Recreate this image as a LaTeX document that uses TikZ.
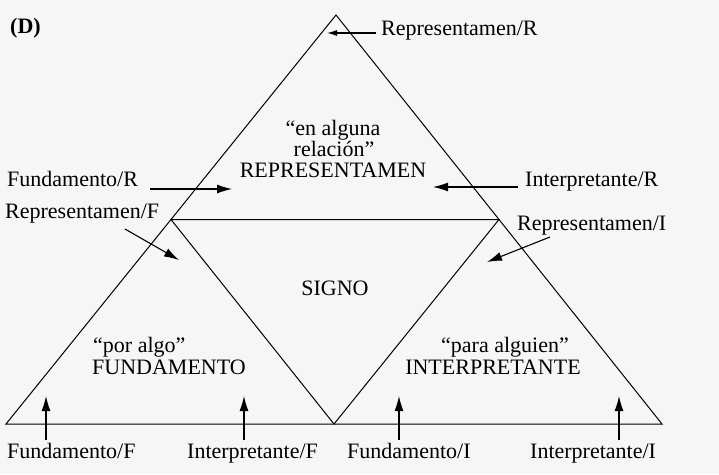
\documentclass[tikz,border=0pt]{standalone}
\usepackage{fontspec}
\setmainfont{Liberation Serif}
\usetikzlibrary{calc,arrows.meta}

\tikzset{
    lbl/.style={font=\fontsize{22}{24}\selectfont, inner sep=0pt, anchor=base west},
    ctr/.style={font=\fontsize{22}{24}\selectfont, inner sep=0pt, anchor=base},
    side/.style={line width=1pt},
    ptr/.style={line width=1.1pt, -{Latex[length=15pt,width=9pt]}},
    smallptr/.style={line width=1.1pt, -{Latex[length=10pt,width=6pt]}}
}

\begin{document}
\begin{tikzpicture}[x=1pt,y=-1pt]
    \fill[gray!7] (0,0) rectangle (719,474);
    \useasboundingbox (0,0) rectangle (719,474);

    % corners of the big triangle and of the inner one
    \coordinate (top) at (336,15);
    \coordinate (lft) at (6,424);
    \coordinate (rgt) at (662,424);
    \coordinate (ml) at ($(top)!0.5!(lft)$);
    \coordinate (mr) at ($(top)!0.5!(rgt)$);
    \coordinate (mb) at ($(lft)!0.5!(rgt)$);

    \draw[side] (top) -- (lft) -- (rgt) -- cycle;
    \draw[side] (ml) -- (mr) -- (mb) -- cycle;

    % title
    \node[lbl, font=\fontsize{22}{24}\selectfont\bfseries] (title) at (10,33) {(D)};

    % texts inside the triangles
    \node[ctr] (rel1) at (333,135) {“en alguna};
    \node[ctr] (rel2) at (334,156) {relación”};
    \node[ctr] (repr) at (333,177) {REPRESENTAMEN};
    \node[ctr] (signo) at (335,295) {SIGNO};
    \node[lbl] (algo) at (93,352) {“por algo”};
    \node[lbl] (fund) at (92,374) {FUNDAMENTO};
    \node[ctr] (alguien) at (505,352) {“para alguien”};
    \node[ctr] (interp) at (493,374) {INTERPRETANTE};

    % labels round the outside
    \node[lbl] (reprR) at (381,35) {Representamen/R};
    \node[lbl] (fundR) at (7,186) {Fundamento/R};
    \node[lbl] (reprF) at (5,218) {Representamen/F};
    \node[lbl] (interR) at (525,186) {Interpretante/R};
    \node[lbl] (reprI) at (517,230) {Representamen/I};
    \node[lbl] (fundF) at (7,458) {Fundamento/F};
    \node[lbl] (interF) at (187,458) {Interpretante/F};
    \node[lbl] (fundI) at (347,458) {Fundamento/I};
    \node[lbl] (interI) at (530,458) {Interpretante/I};

    % ends of the arrows
    \coordinate (sRR) at (376,33);  \coordinate (tRR) at (327,33);
    \coordinate (sFR) at (150,189); \coordinate (tFR) at (232,189);
    \coordinate (sRF) at (125,229); \coordinate (tRF) at (179,260);
    \coordinate (sIR) at (518,187); \coordinate (tIR) at (433,187);
    \coordinate (sRI) at (550,237); \coordinate (tRI) at (487,262);

    \draw[smallptr] (sRR) -- (tRR);
    \draw[ptr] (sFR) -- (tFR);
    \draw[ptr] (sRF) -- (tRF);
    \draw[ptr] (sIR) -- (tIR);
    \draw[ptr] (sRI) -- (tRI);

    % arrows from below onto the base line
    \foreach \x/\n in {46/FF,244/IF,399/FI,619/II} {
        \coordinate (s\n) at (\x,440);
        \coordinate (t\n) at (\x,396);
        \draw[ptr] (s\n) -- (t\n);
    }
\end{tikzpicture}
\end{document}
